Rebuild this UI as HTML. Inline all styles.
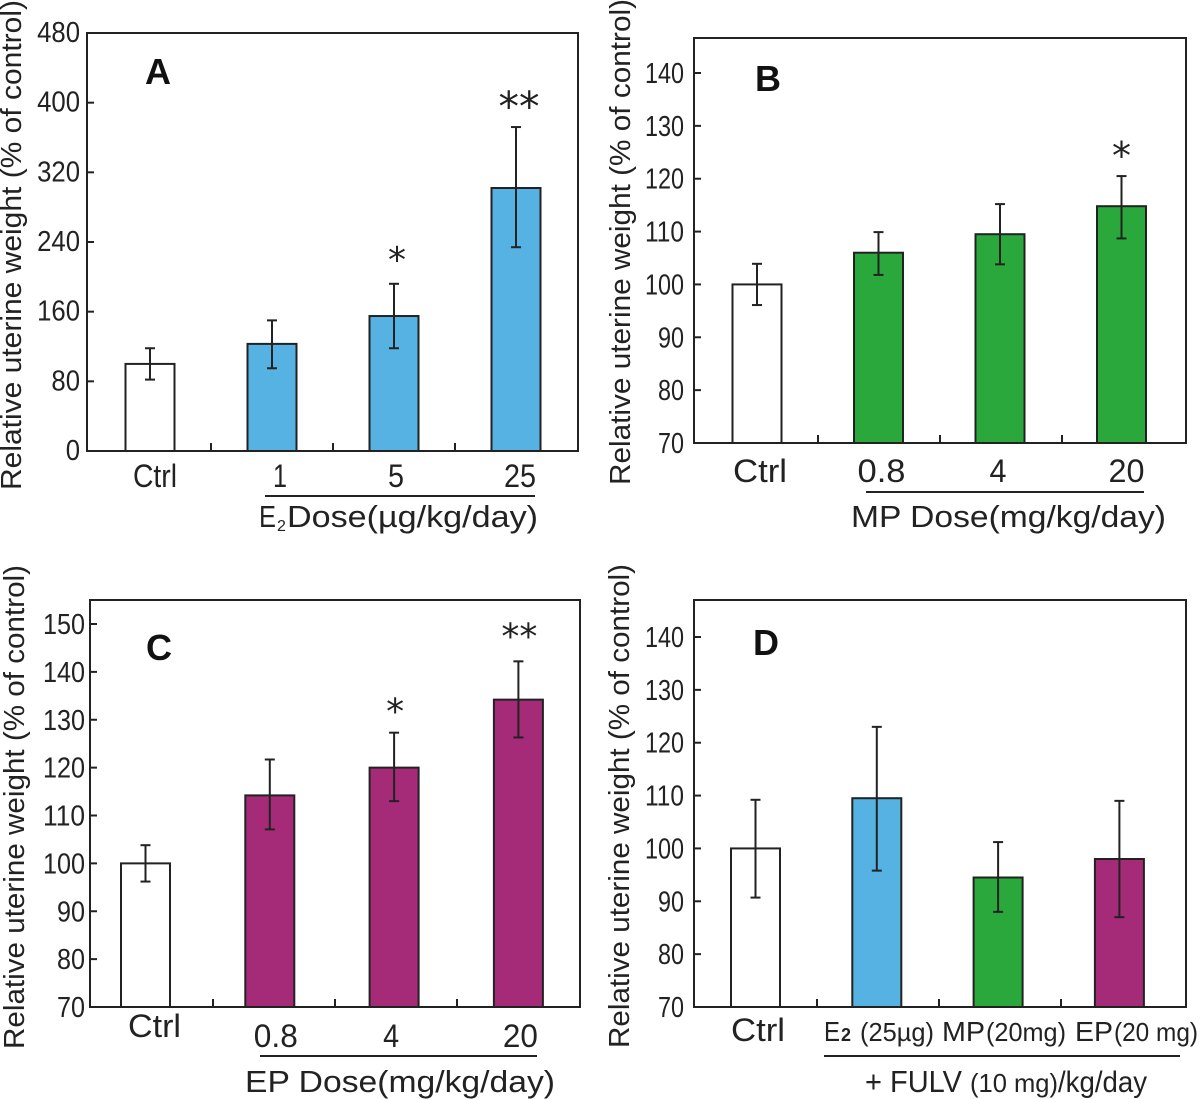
<!DOCTYPE html>
<html lang="en">
<head>
<meta charset="utf-8">
<title>Relative uterine weight panels</title>
<style>
html,body{margin:0;padding:0;background:#fff;}
svg{display:block;}
text{font-family:"Liberation Sans",sans-serif;fill:#222;}
.yt{font-size:29px;}
.big{font-size:31px;}
.let{font-size:36px;font-weight:bold;fill:#111;}
.line{stroke:#222;stroke-width:2;fill:none;}
</style>
</head>
<body>
<svg id="fig" width="1200" height="1099" viewBox="0 0 1200 1099" xmlns="http://www.w3.org/2000/svg">
  <text class="yt" transform="translate(21,490) rotate(-90)" textLength="490" lengthAdjust="spacingAndGlyphs">Relative uterine weight (% of control)</text>
  <text class="yt" transform="translate(630,485) rotate(-90)" textLength="486" lengthAdjust="spacingAndGlyphs">Relative uterine weight (% of control)</text>
  <text class="yt" transform="translate(24,1049) rotate(-90)" textLength="484" lengthAdjust="spacingAndGlyphs">Relative uterine weight (% of control)</text>
  <text class="yt" transform="translate(629,1048) rotate(-90)" textLength="484" lengthAdjust="spacingAndGlyphs">Relative uterine weight (% of control)</text>

  <text class="let" x="145" y="84">A</text>
  <text class="let" x="755" y="91">B</text>
  <text class="let" x="146" y="660">C</text>
  <text class="let" x="753" y="655">D</text>

  <line class="line" x1="265" x2="535" y1="496" y2="496"/>
  <text class="big" x="259" y="527" textLength="17" lengthAdjust="spacingAndGlyphs">E</text>
  <text x="277" y="531" font-size="16">2</text>
  <text class="big" x="287" y="527" textLength="251" lengthAdjust="spacingAndGlyphs">Dose(µg/kg/day)</text>

  <line class="line" x1="866" x2="1144" y1="492" y2="492"/>
  <text class="big" x="851" y="527" textLength="315" lengthAdjust="spacingAndGlyphs">MP Dose(mg/kg/day)</text>

  <line class="line" x1="260" x2="537" y1="1056" y2="1056"/>
  <text class="big" x="245" y="1092" textLength="310" lengthAdjust="spacingAndGlyphs">EP Dose(mg/kg/day)</text>

  <line class="line" x1="824" x2="1180" y1="1056" y2="1056"/>
  <text x="865" y="1092" font-size="31" textLength="97" lengthAdjust="spacingAndGlyphs">+ FULV</text>
  <text x="970" y="1092" font-size="26" textLength="88" lengthAdjust="spacingAndGlyphs">(10 mg)</text>
  <text x="1058" y="1092" font-size="30" textLength="89" lengthAdjust="spacingAndGlyphs">/kg/day</text>

  <g id="plots"></g>
</svg>
<script>
// Panel A data
const aCategories = ['Ctrl', '1', '5', '25'];
const aValues = [100, 123, 155, 302];
const aUpper = [118, 150, 192, 372];
const aLower = [82, 95, 118, 234];
const aStars = ['', '', '*', '**'];
const aTicks = [0, 80, 160, 240, 320, 400, 480];

// Panel B data
const bCategories = ['Ctrl', '0.8', '4', '20'];
const bValues = [100, 106, 109.5, 114.8];
const bUpper = [103.9, 109.9, 115.2, 120.5];
const bLower = [96.1, 101.8, 103.8, 108.7];
const bStars = ['', '', '', '*'];
const bTicks = [70, 80, 90, 100, 110, 120, 130, 140];

// Panel C data
const cCategories = ['Ctrl', '0.8', '4', '20'];
const cValues = [100, 114.2, 120, 134.2];
const cUpper = [103.8, 121.7, 127.3, 142.2];
const cLower = [96.2, 107.1, 113, 126.3];
const cStars = ['', '', '*', '**'];
const cTicks = [70, 80, 90, 100, 110, 120, 130, 140, 150];

// Panel D data
const dCategories = ['Ctrl', 'E2 (25µg)', 'MP(20mg)', 'EP(20 mg)'];
const dValues = [100, 109.5, 94.5, 98];
const dUpper = [109.2, 123, 101.2, 109];
const dLower = [90.7, 95.8, 88, 87];
const dStars = ['', '', '', ''];
const dTicks = [70, 80, 90, 100, 110, 120, 130, 140];

const WHITE = '#ffffff', BLUE = '#56b2e2', GREEN = '#2aa83c', PURPLE = '#a52a78';
const NS = 'http://www.w3.org/2000/svg';
const root = document.getElementById('plots');

function make(tag, name, attrs, parent) {
  const el = document.createElementNS(NS, tag);
  
  
  for (const k in attrs) el.setAttribute(k, attrs[k]);
  (parent || root).appendChild(el);
  return el;
}

function drawPanel(p) {
  const g = make('g', 'panel-' + p.id, {});
  const x0 = p.box[0], y0 = p.box[1], x1 = p.box[2], y1 = p.box[3];
  // Linear axis function: value to pixel, anchored on the first and last tick.
  const lo = p.ticks[0], hi = p.ticks[p.ticks.length - 1];
  const yScale = v => p.yLo + (v - lo) * (p.yHi - p.yLo) / (hi - lo);
  const xScale = i => p.first + i * p.step;

  make('rect', 'panel-' + p.id + '-plot-frame', {x: x0, y: y0, width: x1 - x0, height: y1 - y0, fill: 'none', stroke: '#222', 'stroke-width': 2}, g);

  p.ticks.forEach(t => {
    const y = yScale(t);
    if (y < y1 - 1) {
      make('line', 'panel-' + p.id + '-y-tick-' + t, {x1: x0, x2: x0 + 7, y1: y, y2: y, stroke: '#222', 'stroke-width': 2}, g);
    }
    const lab = make('text', 'panel-' + p.id + '-y-tick-label-' + t, {x: p.tickRight, y: y + p.tickDy, 'text-anchor': 'end', 'font-size': p.tickSize, textLength: String(t).length * p.digitWidth, lengthAdjust: 'spacingAndGlyphs'}, g);
    lab.textContent = t;
  });

  for (let i = 0; i < 3; i++) {
    const tx = p.sepFirst + i * 122;
    make('line', 'panel-' + p.id + '-x-tick-' + i, {x1: tx, x2: tx, y1: y1, y2: y1 - 8, stroke: '#222', 'stroke-width': 2}, g);
  }

  p.values.forEach((v, i) => {
    const cx = xScale(i);
    const top = yScale(v);
    const base = yScale(lo);
    const key = 'panel-' + p.id + '-' + String(p.categories[i]).toLowerCase().replace(/[^a-z0-9]+/g, '-').replace(/-$/, '');
    make('rect', key + '-bar', {x: cx - 24.5, y: top, width: 49, height: base - top, fill: p.colors[i], stroke: '#222', 'stroke-width': 2}, g);
    const up = yScale(p.upper[i]), dn = yScale(p.lower[i]);
    const eg = make('g', key + '-error-bar', {stroke: '#222', 'stroke-width': 2}, g);
    make('line', key + '-error-stem', {x1: cx, x2: cx, y1: up, y2: dn}, eg);
    make('line', key + '-error-cap-upper', {x1: cx - 5, x2: cx + 5, y1: up, y2: up}, eg);
    make('line', key + '-error-cap-lower', {x1: cx - 5, x2: cx + 5, y1: dn, y2: dn}, eg);
    if (p.stars[i]) {
      const s = make('text', key + '-significance', {x: cx + p.starDx, y: up - p.starGap[i], 'text-anchor': 'middle', 'font-size': p.starSize[i]}, g);
      s.style.fontFamily = '"DejaVu Sans",sans-serif';
      s.textContent = p.stars[i];
    }
    if (p.labelled) {
      const t = make('text', key + '-x-label', {x: cx + p.labelDx[i], y: p.labelY[i], 'text-anchor': 'middle', 'font-size': 32, textLength: p.labelLen[i], lengthAdjust: 'spacingAndGlyphs'}, g);
      t.textContent = p.categories[i];
    }
  });
}

drawPanel({id: 'a', box: [87, 33, 578, 451], yLo: 451, yHi: 33, first: 150, step: 122, sepFirst: 211,
  ticks: aTicks, categories: aCategories, values: aValues, upper: aUpper, lower: aLower, stars: aStars,
  colors: [WHITE, BLUE, BLUE, BLUE], tickRight: 80, tickDy: 9, tickSize: 29, digitWidth: 14.3,
  starDx: 3, starGap: [0, 0, 12, 6], starSize: [36, 36, 36, 41],
  labelled: true, labelDx: [5, 8, 2, 4], labelY: [487, 487, 487, 487], labelLen: [44, 14, 16, 32]});

drawPanel({id: 'b', box: [694, 38, 1186, 443], yLo: 443, yHi: 73, first: 757, step: 121.5, sepFirst: 818,
  ticks: bTicks, categories: bCategories, values: bValues, upper: bUpper, lower: bLower, stars: bStars,
  colors: [WHITE, GREEN, GREEN, GREEN], tickRight: 684, tickDy: 10, tickSize: 29, digitWidth: 13,
  starDx: 0, starGap: [0, 0, 0, 7], starSize: [38, 38, 38, 38],
  labelled: true, labelDx: [3, 3, -2, 5], labelY: [482, 482, 482, 482], labelLen: [54, 48, 17, 36]});

drawPanel({id: 'c', box: [90, 600, 580, 1007], yLo: 1007, yHi: 624, first: 145.5, step: 124.3, sepFirst: 213,
  ticks: cTicks, categories: cCategories, values: cValues, upper: cUpper, lower: cLower, stars: cStars,
  colors: [WHITE, PURPLE, PURPLE, PURPLE], tickRight: 85, tickDy: 10, tickSize: 29, digitWidth: 14,
  starDx: 1, starGap: [0, 0, 9, 13], starSize: [36, 36, 36, 36],
  labelled: true, labelDx: [9, 6, -3, 2], labelY: [1037, 1047, 1047, 1047], labelLen: [53, 44, 16, 35]});

drawPanel({id: 'd', box: [694, 600, 1186, 1007], yLo: 1007, yHi: 637, first: 755.5, step: 121.3, sepFirst: 817,
  ticks: dTicks, categories: dCategories, values: dValues, upper: dUpper, lower: dLower, stars: dStars,
  colors: [WHITE, BLUE, GREEN, PURPLE], tickRight: 684, tickDy: 10, tickSize: 29, digitWidth: 13,
  starDx: 0, starGap: [0, 0, 0, 0], starSize: [36, 36, 36, 36],
  labelled: false});

// Panel D category labels mix sizes, so each part is placed on its own.
function dLabel(name, str, x, size, len, bold) {
  const t = make('text', name, {x: x, y: 1041, 'font-size': size, textLength: len, lengthAdjust: 'spacingAndGlyphs'});
  if (bold) t.setAttribute('font-weight', 'bold');
  t.textContent = str;
}
dLabel('panel-d-ctrl-x-label', dCategories[0], 731, 32, 54);
dLabel('panel-d-e2-label-e', 'E', 824, 28, 16);
dLabel('panel-d-e2-label-subscript', '2', 841, 18, 10, true);
dLabel('panel-d-e2-label-dose', '(25µg)', 860, 26, 74);
dLabel('panel-d-mp-label-name', 'MP', 942, 28, 43);
dLabel('panel-d-mp-label-dose', '(20mg)', 986, 26, 80);
dLabel('panel-d-ep-label-name', 'EP', 1075, 28, 38);
dLabel('panel-d-ep-label-dose', '(20 mg)', 1114, 26, 84);
</script>
</body>
</html>
